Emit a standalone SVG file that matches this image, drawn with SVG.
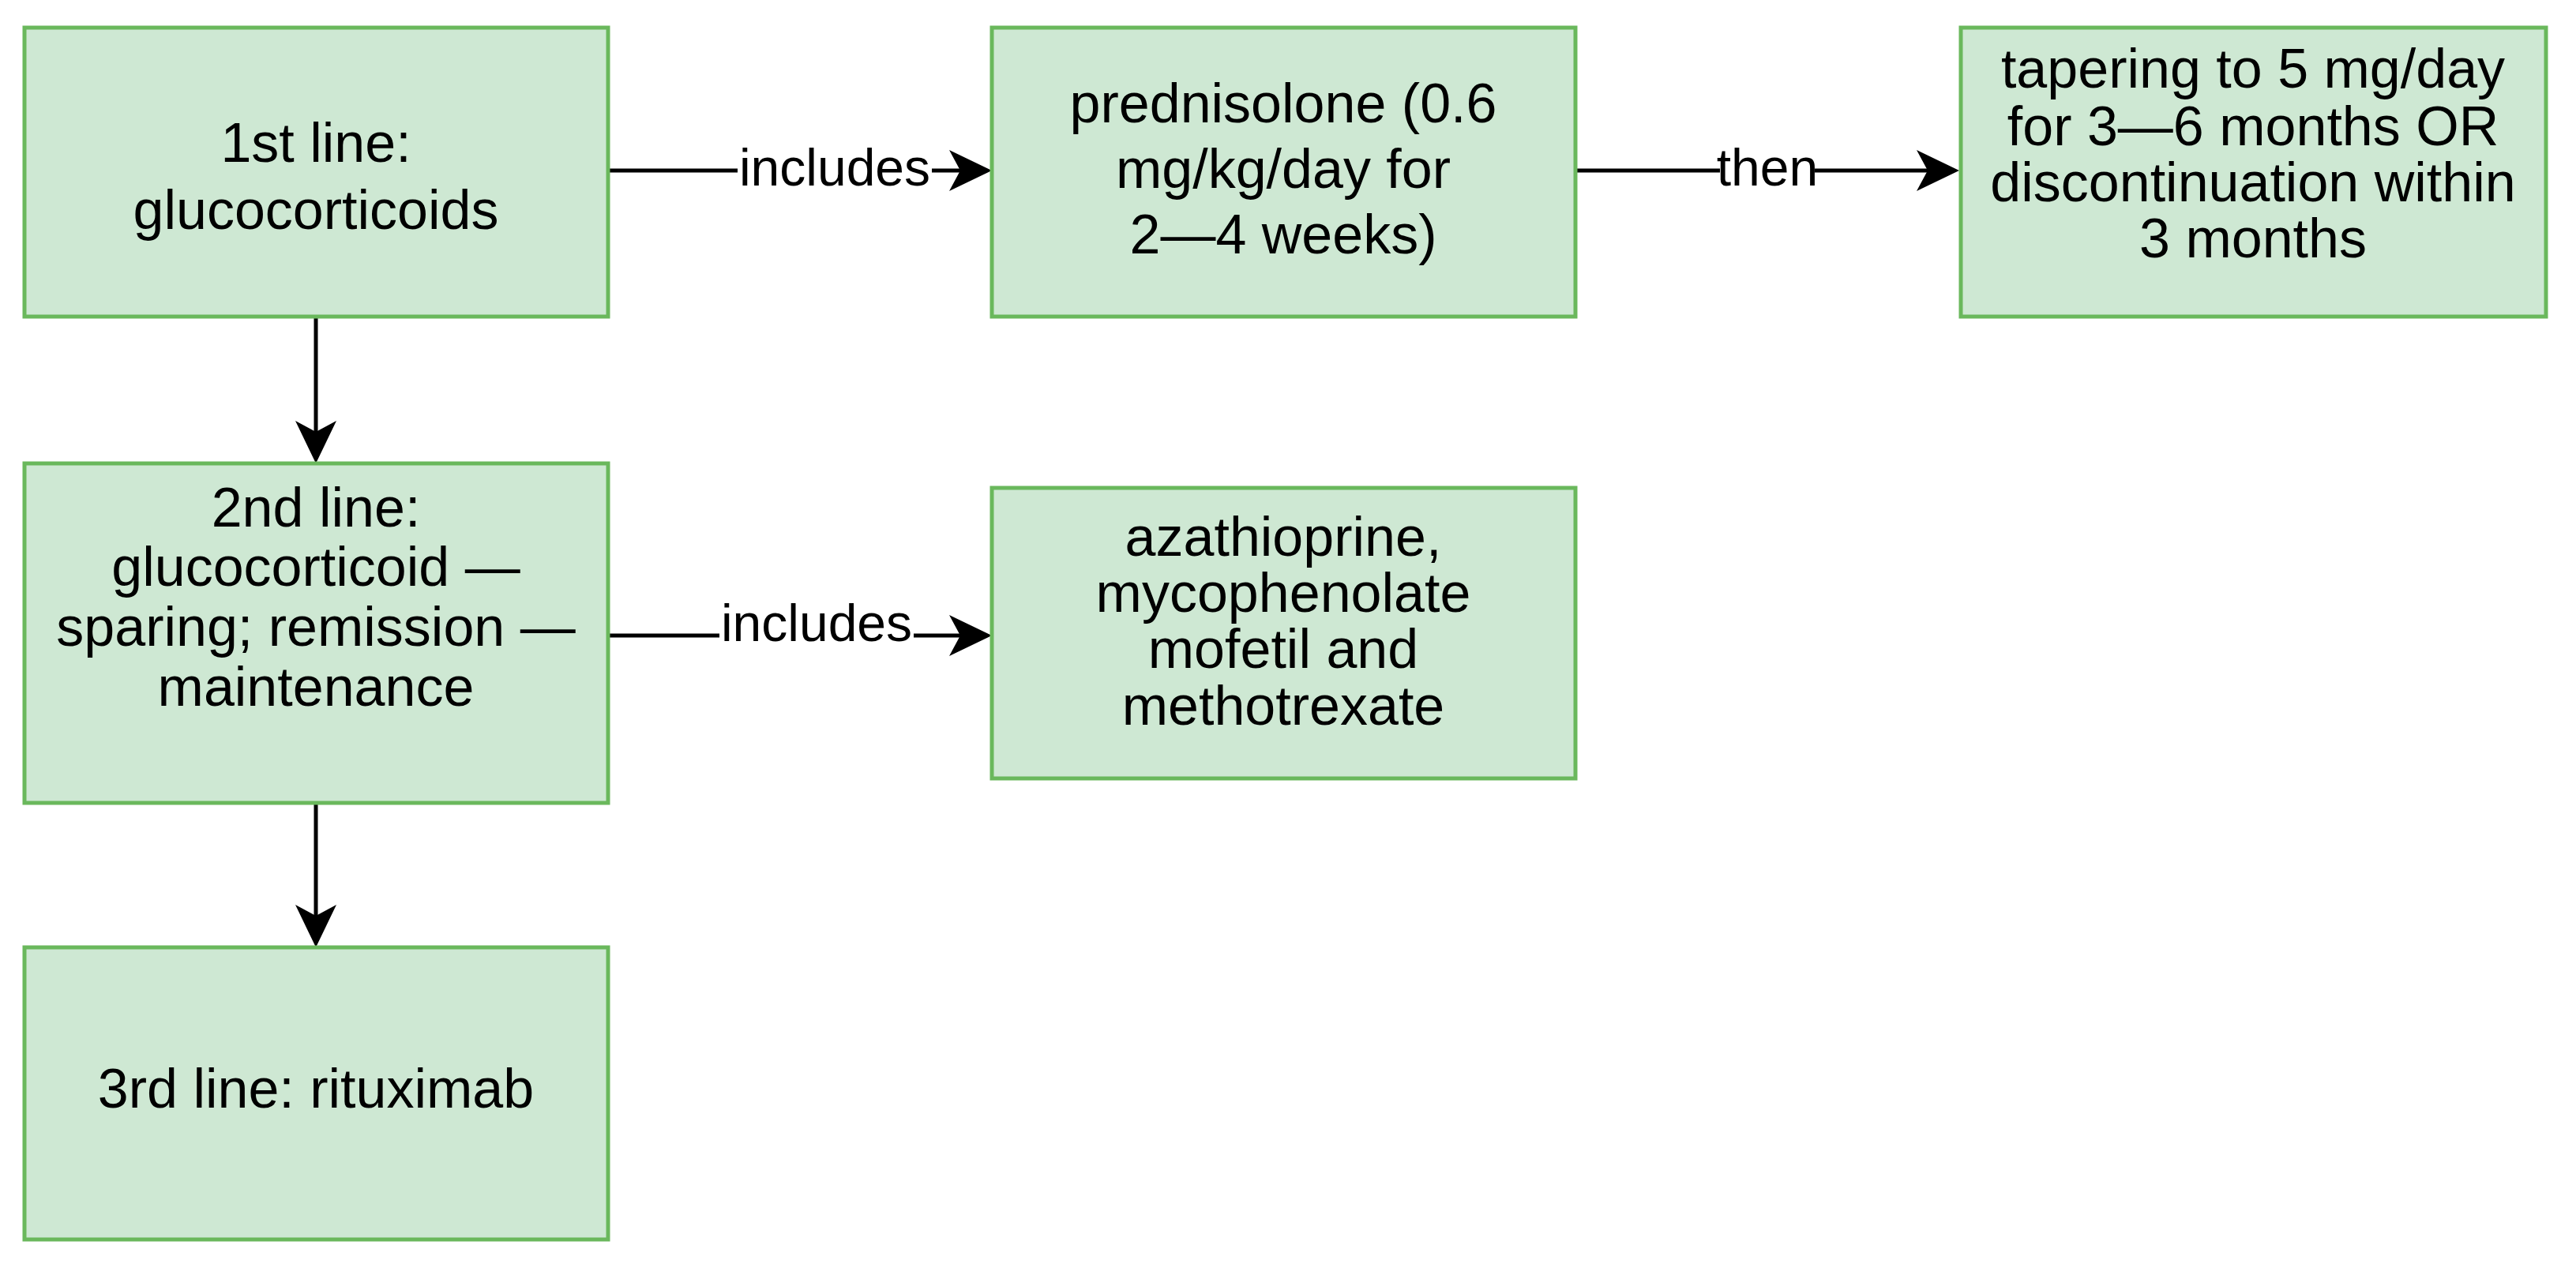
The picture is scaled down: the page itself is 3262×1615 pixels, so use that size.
<svg xmlns="http://www.w3.org/2000/svg" width="3262" height="1615" viewBox="0 0 3262 1615">
<style>
.b{fill:#cee8d3;stroke:#6ab85c;stroke-width:5}
.t{font-family:"Liberation Sans",Arial,sans-serif;font-size:70px;fill:#000;text-anchor:middle;dominant-baseline:central}
.l{font-family:"Liberation Sans",Arial,sans-serif;font-size:66px;fill:#000;text-anchor:middle;dominant-baseline:central}
.e{stroke:#000;stroke-width:5;fill:none}
</style>
<g id="edges">
<path class="e" d="M770,216 H1250"/>
<path d="M1256,216 l-54,-26 l14,26 l-14,26 z"/>
<rect x="934" y="180" width="246" height="70" fill="#fff"/><text class="l" x="1057" y="212">includes</text>
<path class="e" d="M1995,216 H2475"/>
<path d="M2481,216 l-54,-26 l14,26 l-14,26 z"/>
<rect x="2178" y="180" width="120" height="70" fill="#fff"/><text class="l" x="2238" y="212">then</text>
<path class="e" d="M770,805 H1250"/>
<path d="M1256,805 l-54,-26 l14,26 l-14,26 z"/>
<rect x="911" y="769" width="246" height="70" fill="#fff"/><text class="l" x="1034" y="789">includes</text>
<path class="e" d="M400,401 V581"/>
<path d="M400,587 l-26,-54 l26,14 l26,-14 z"/>
<path class="e" d="M400,1017 V1194"/>
<path d="M400,1200 l-26,-54 l26,14 l26,-14 z"/>
</g>
<g id="n1"><rect class="b" x="31" y="35" width="739" height="366"/><text class="t" x="400" y="181">1st line:</text><text class="t" x="400" y="266">glucocorticoids</text></g>
<g id="n2"><rect class="b" x="31" y="587" width="739" height="430"/><text class="t" x="400" y="643">2nd line:</text><text class="t" x="400" y="718">glucocorticoid —</text><text class="t" x="400" y="794">sparing; remission —</text><text class="t" x="400" y="870">maintenance</text></g>
<g id="n3"><rect class="b" x="31" y="1200" width="739" height="370"/><text class="t" x="400" y="1379">3rd line: rituximab</text></g>
<g id="n4"><rect class="b" x="1256" y="35" width="739" height="366"/><text class="t" x="1625" y="131">prednisolone (0.6</text><text class="t" x="1625" y="214">mg/kg/day for</text><text class="t" x="1625" y="297">2—4 weeks)</text></g>
<g id="n5"><rect class="b" x="2483" y="35" width="741" height="366"/><text class="t" x="2853" y="87">tapering to 5 mg/day</text><text class="t" x="2853" y="160">for 3—6 months OR</text><text class="t" x="2853" y="231">discontinuation within</text><text class="t" x="2853" y="302">3 months</text></g>
<g id="n6"><rect class="b" x="1256" y="618" width="739" height="368"/><text class="t" x="1625" y="680">azathioprine,</text><text class="t" x="1625" y="751">mycophenolate</text><text class="t" x="1625" y="822">mofetil and</text><text class="t" x="1625" y="894">methotrexate</text></g>
</svg>
